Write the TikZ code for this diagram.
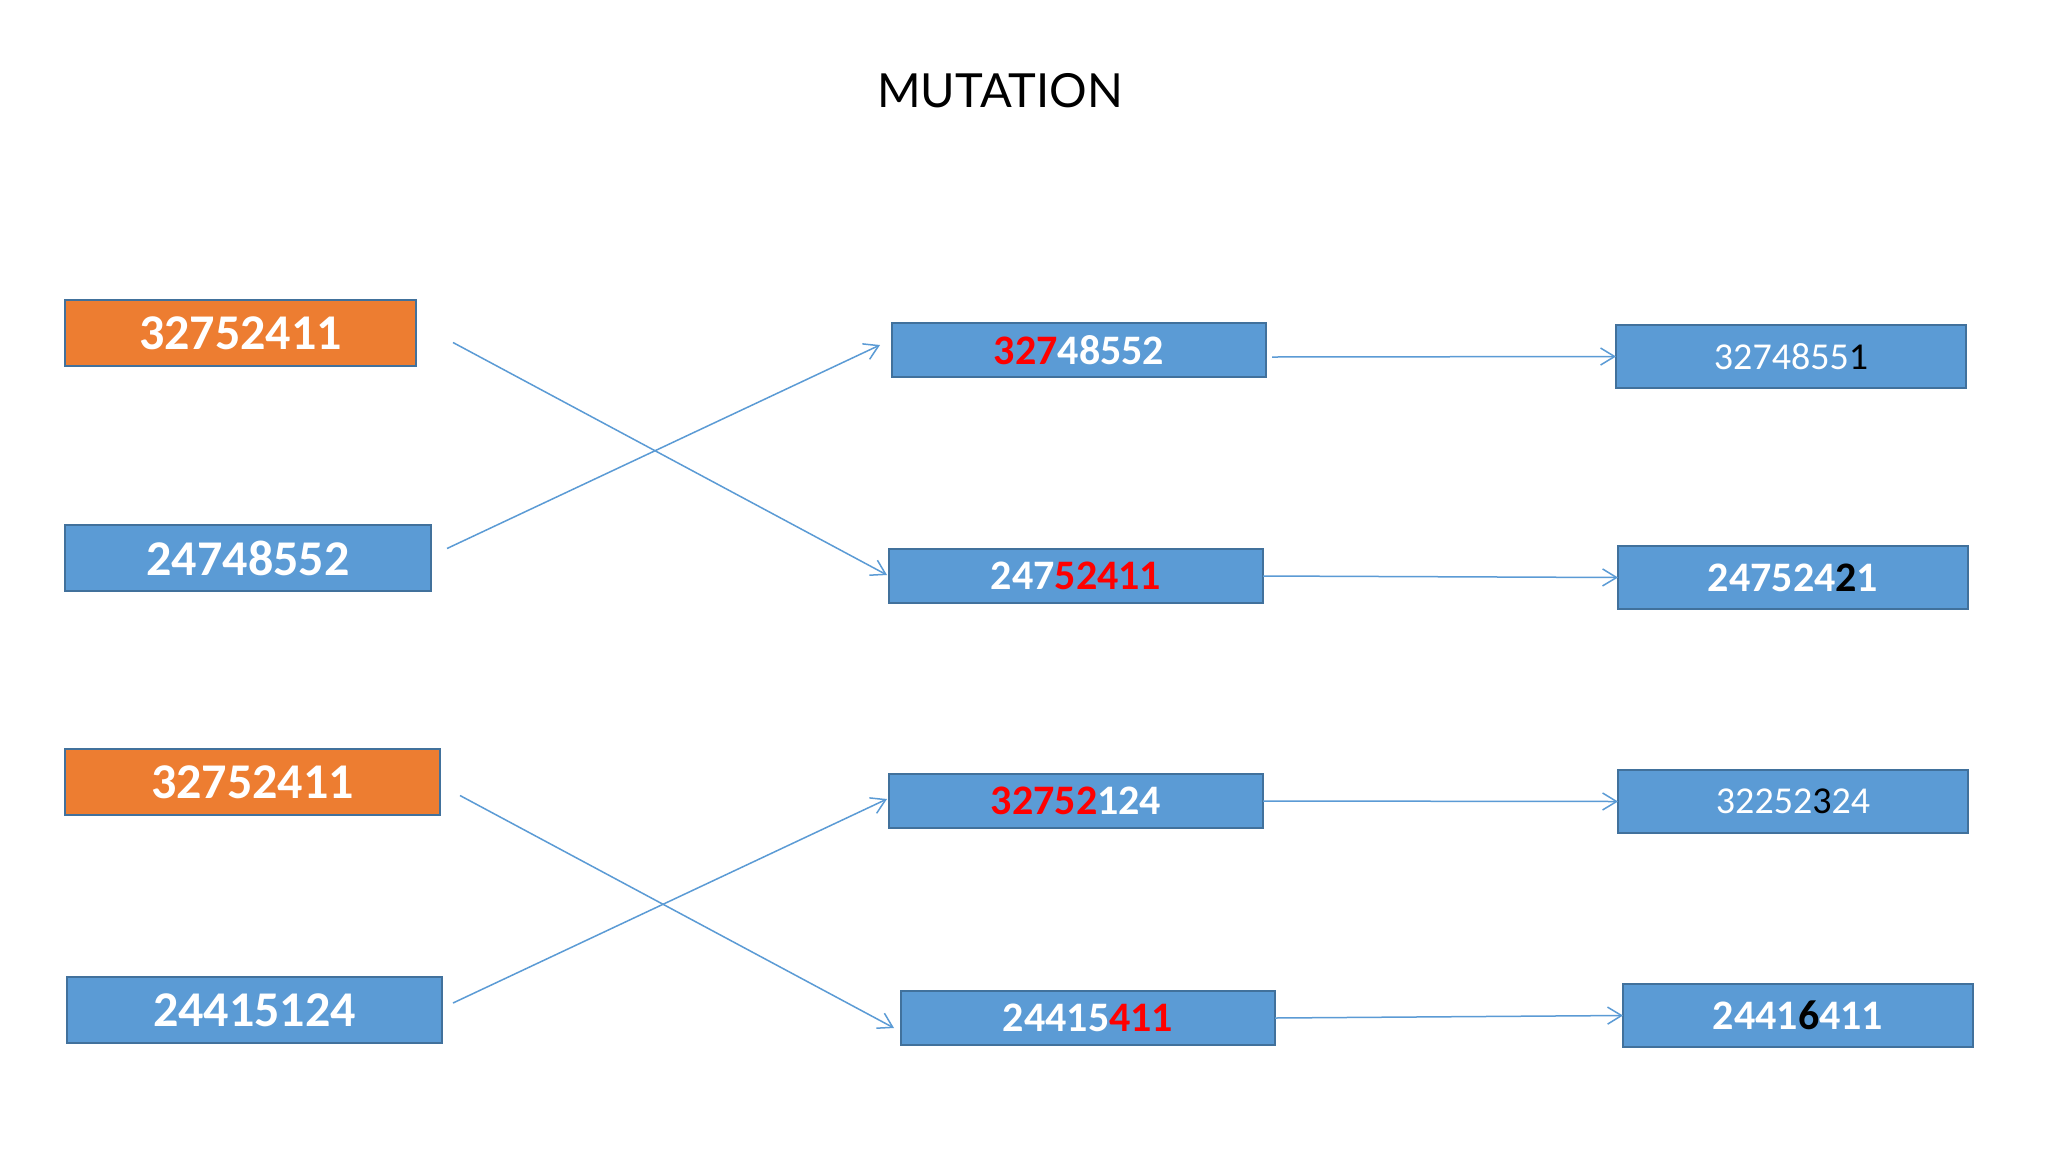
\documentclass[tikz,border=0pt]{standalone}
\usepackage{fontspec}
\setmainfont{Carlito}
\newfontfamily\titlefont{Lato}
\usetikzlibrary{positioning,arrows.meta}
\definecolor{boxblue}{HTML}{5B9BD5}
\definecolor{boxorange}{HTML}{ED7D31}
\definecolor{boxline}{HTML}{41719C}
\definecolor{genered}{HTML}{FF0000}
\newcommand{\gene}[1]{\textcolor{genered}{#1}}
\newcommand{\flip}[1]{\textcolor{black}{#1}}
\tikzset{
  gen/.style={draw=boxline, line width=1.5pt, fill=boxblue, text=white, inner sep=0pt, outer sep=0pt},
  parent/.style={gen, minimum height=66pt, font=\fontsize{50}{60}\selectfont\bfseries},
  child/.style={gen, minimum height=54pt, minimum width=374pt, font=\fontsize{42}{50}\selectfont\bfseries},
  mutant/.style={gen, minimum height=63pt, minimum width=350pt, font=\fontsize{42}{50}\selectfont\bfseries},
  thin mutant/.style={mutant, font=\fontsize{38}{46}\selectfont},
  link/.style={draw=boxblue, line width=1.5pt, -{Straight Barb[length=14pt,width=17pt]}},
}
\begin{document}
\begin{tikzpicture}[x=1pt, y=-1pt]
  \fill[white] (0,0) rectangle (2048,1152);
  \useasboundingbox (0,0) rectangle (2048,1152);
  \node (title) at (1000,91) {\titlefont\fontsize{47}{56}\selectfont MUTATION};
  % parents
  \node [parent, fill=boxorange, minimum width=351pt, anchor=north west] (p1) at (65,300) {32752411};
  \node [parent, minimum width=366pt, below=159pt of p1.south west, anchor=north west] (p2) {24748552};
  \node [parent, fill=boxorange, minimum width=375pt, below=158pt of p2.south west, anchor=north west] (p3) {32752411};
  \node [parent, minimum width=375pt, below=162pt of p3.south west, anchor=north west, xshift=2pt] (p4) {24415124};
  % crossover
  \node [child, anchor=north west] (c1) at (892,323) {\gene{327}48552};
  \node [child, below=172pt of c1.south west, anchor=north west, xshift=-3pt] (c2) {247\gene{52411}};
  \node [child, below=171pt of c2.south west, anchor=north west] (c3) {\gene{32752}124};
  \node [child, below=163pt of c3.south west, anchor=north west, xshift=12pt] (c4) {24415\gene{411}};
  % mutation
  \node [thin mutant, anchor=north west] (m1) at (1616,325) {3274855\flip{1}};
  \node [mutant, below=158pt of m1.south west, anchor=north west, xshift=2pt] (m2) {247524\flip{2}1};
  \node [thin mutant, below=161pt of m2.south west, anchor=north west] (m3) {32252\flip{3}24};
  \node [mutant, below=151pt of m3.south west, anchor=north west, xshift=5pt] (m4) {2441\flip{6}411};
  \draw [link] ([xshift=37pt,yshift=-9.5pt]p1.east) -- ([xshift=-2pt,yshift=1pt]c2.west);
  \draw [link] ([xshift=16pt,yshift=9.5pt]p2.east) -- ([xshift=-12pt,yshift=5pt]c1.west);
  \draw [link] ([xshift=20pt,yshift=-13.5pt]p3.east) -- ([xshift=-7pt,yshift=-10pt]c4.west);
  \draw [link] ([xshift=11pt,yshift=7pt]p4.east) -- ([xshift=-2pt,yshift=2pt]c3.west);
  \draw [link] ([xshift=6pt,yshift=-7pt]c1.east) -- (m1.west);
  \draw [link] (c2.east) -- (m2.west);
  \draw [link] (c3.east) -- (m3.west);
  \draw [link] (c4.east) -- (m4.west);
\end{tikzpicture}
\end{document}
